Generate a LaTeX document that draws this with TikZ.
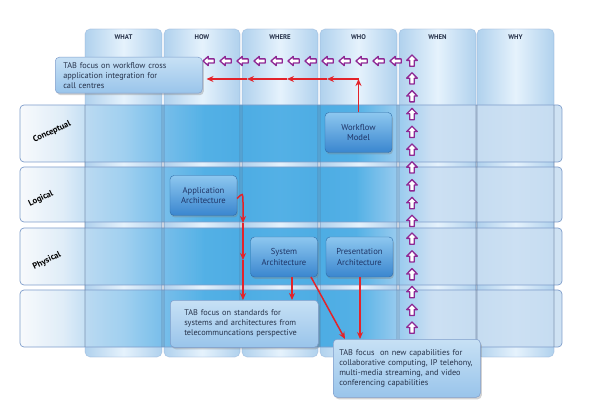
\documentclass[tikz,border=0pt]{standalone}
\usepackage{fontspec}
\setmainfont{PT Sans}
\usetikzlibrary{arrows.meta,shadows}
\definecolor{redarr}{HTML}{E3232A}
\definecolor{purp}{HTML}{8E2894}
\definecolor{navy}{HTML}{1F3466}
\definecolor{txtdark}{HTML}{26324A}
\definecolor{colEdge}{rgb}{0.69,0.82,0.93}
\definecolor{colMid}{rgb}{0.90,0.95,0.99}
\definecolor{rowEdge}{HTML}{7F9DCB}
\definecolor{rA}{rgb}{0.97,0.98,0.99}
\definecolor{rB}{rgb}{0.86,0.92,0.97}
\definecolor{rC}{rgb}{0.74,0.86,0.95}
\definecolor{rD}{rgb}{0.45,0.74,0.92}
\definecolor{rE}{rgb}{0.25,0.66,0.89}
\definecolor{rF}{rgb}{0.60,0.80,0.94}
\definecolor{rG}{rgb}{0.79,0.87,0.95}
\definecolor{archTop}{HTML}{8DC7EF}
\definecolor{archBot}{HTML}{3A86CF}
\definecolor{tabTop}{rgb}{0.78,0.88,0.96}
\definecolor{tabBot}{rgb}{0.60,0.77,0.92}
\pgfdeclarehorizontalshading{rowshade}{100bp}{color(0bp)=(rA); color(25bp)=(rA); color(29bp)=(rB); color(31bp)=(rC); color(38bp)=(rD); color(42bp)=(rE); color(56bp)=(rE); color(60bp)=(rF); color(63bp)=(rG); color(75bp)=(rG); color(100bp)=(rG)}
\tikzset{
  redline/.style={draw=redarr, line width=1.5pt},
  rarr/.style={redline, -{Stealth[length=7pt,width=6pt]}},
  purparr/.style={draw=purp, line width=1.3pt, fill=white, line join=round},
  uparrow/.pic={\draw[purparr] (0,-6) -- (5.3,-0.6) -- (2.2,-0.6) -- (2.2,5.3) -- (-2.2,5.3) -- (-2.2,-0.6) -- (-5.3,-0.6) -- cycle;},
  leftarrow/.pic={\draw[purparr] (-6,0) -- (-0.8,-4.6) -- (-0.8,-2.1) -- (5.2,-2.1) -- (5.2,2.1) -- (-0.8,2.1) -- (-0.8,4.6) -- cycle;},
  colfill/.style={left color=colEdge, right color=colEdge, middle color=colMid, rounded corners=5pt},
  rowfill/.style={shading=rowshade, rounded corners=4pt, fill opacity=0.88, draw=rowEdge, line width=0.7pt},
  hdr/.style={font=\fontsize{6.8}{7}\selectfont\bfseries, text=txtdark},
  rowlab/.style={font=\fontsize{8.6}{9}\selectfont\bfseries, text=black, rotate=26, inner sep=0pt},
  archbox/.style={rounded corners=4pt, top color=archTop, bottom color=archBot, draw=archBot!80!black, line width=0.4pt,
    drop shadow={opacity=0.35, shadow xshift=1pt, shadow yshift=-2pt},
    minimum width=67pt, minimum height=40pt, align=center, text=navy, font=\fontsize{8.6}{10.5}\selectfont, inner sep=1pt},
  tabbox/.style={rounded corners=4pt, top color=tabTop, bottom color=tabBot, draw=rowEdge, line width=0.5pt,
    drop shadow={opacity=0.35, shadow xshift=1.5pt, shadow yshift=-2pt},
    anchor=north west, align=left, text=txtdark, font=\fontsize{8.3}{10}\selectfont, inner ysep=2pt}
}
\begin{document}
\begin{tikzpicture}[x=1pt,y=-1pt]
\useasboundingbox (0,0) rectangle (600,414);
\fill[white] (0,0) rectangle (600,414);
% columns
\foreach \xa/\xb/\lab in {85/162/WHAT,164/240/HOW,242/318/WHERE,320/397/WHO,399/476/WHEN,477/554/WHY}{
  \shade[colfill] (\xa,29) rectangle (\xb,357);
  \draw[draw=rowEdge, draw opacity=0.35, line width=0.6pt, rounded corners=5pt] (\xa,29) rectangle (\xb,357);
  \node[hdr] (h\lab) at ({(\xa+\xb)/2},37) {\lab};
}
% rows
\foreach \ya/\yb in {105/162,167/222,228/285,290/347}{
  \shadedraw[rowfill] (20,\ya) rectangle (562,\yb);
}
% column edges seen through rows
\foreach \xx in {85,162,164,240,242,318,320,397,399,476,477,554}{
  \draw[draw=rowEdge!70!black, draw opacity=0.22, line width=1.2pt] (\xx,105) -- (\xx,347);
}
% row labels
\node[rowlab] (lconc) at (52,132) {Conceptual};
\node[rowlab] (llog) at (41,199) {Logical};
\node[rowlab] (lphys) at (47,261) {Physical};
% purple arrows
\foreach \i in {0,...,11}{ \pic at ({209+\i*17},61) {leftarrow}; }
\foreach \i in {0,...,15}{ \pic at (412,{61+\i*17.8}) {uparrow}; }
% architecture boxes
\node[archbox] (wf) at (358.5,132.5) {Workflow\\Model};
\node[archbox] (app) at (203.5,195.5) {Application\\Architecture};
\node[archbox] (sys) at (284,257) {System\\Architecture};
\node[archbox] (pres) at (359.5,257) {Presentation\\Architecture};
% TAB boxes
\node[tabbox, minimum width=147pt, minimum height=36pt, text width=131pt, inner xsep=8pt] (tab1) at (55,57)
  {TAB focus on workflow cross\\application integration for\\call centres};
\node[tabbox, minimum width=148pt, minimum height=47pt, text width=120pt, inner xsep=14pt] (tab2) at (170,300)
  {TAB focus on standards for\\systems and architectures from\\telecommuncations perspective};
\node[tabbox, minimum width=147pt, minimum height=58pt, text width=135pt, inner xsep=6pt] (tab3) at (333,339)
  {TAB focus\ \ on new capabilities for\\collaborative computing, IP telehony,\\multi-media streaming, and video\\conferencing capabilities};
% red arrows: workflow -> left
\coordinate (r0) at (358.5,79);
\coordinate (r1) at (327,79);
\coordinate (r2) at (287,79);
\coordinate (r3) at (247,79);
\coordinate (r4) at (tab1.east |- r0);
\draw[rarr] (wf.north) -- (r0);
\draw[rarr] (r0) -- (r1);
\draw[rarr] (r1) -- (r2);
\draw[rarr] (r2) -- (r3);
\draw[rarr] (r3) -- ([xshift=4pt]r4);
% application architecture down
\coordinate (a1) at (243,223);
\coordinate (a2) at (243,260);
\coordinate (a3) at (tab2.north -| a1);
\draw[rarr] ([yshift=-3pt]app.east) .. controls (243,192.5) .. (243,203) -- (a1);
\draw[rarr] (a1) -- (a2);
\draw[rarr] (a2) -- (a3);
% system architecture
\coordinate (s1) at (292,277);
\draw[rarr] (s1) -- (tab2.north -| s1);
\coordinate (s2) at (311,277);
\coordinate (s3) at (345,339);
\draw[rarr] (s2) -- (s3);
% presentation
\coordinate (p1) at (360,277);
\coordinate (p2) at (360,339);
\draw[rarr] (p1) -- (p2);
\end{tikzpicture}
\end{document}
